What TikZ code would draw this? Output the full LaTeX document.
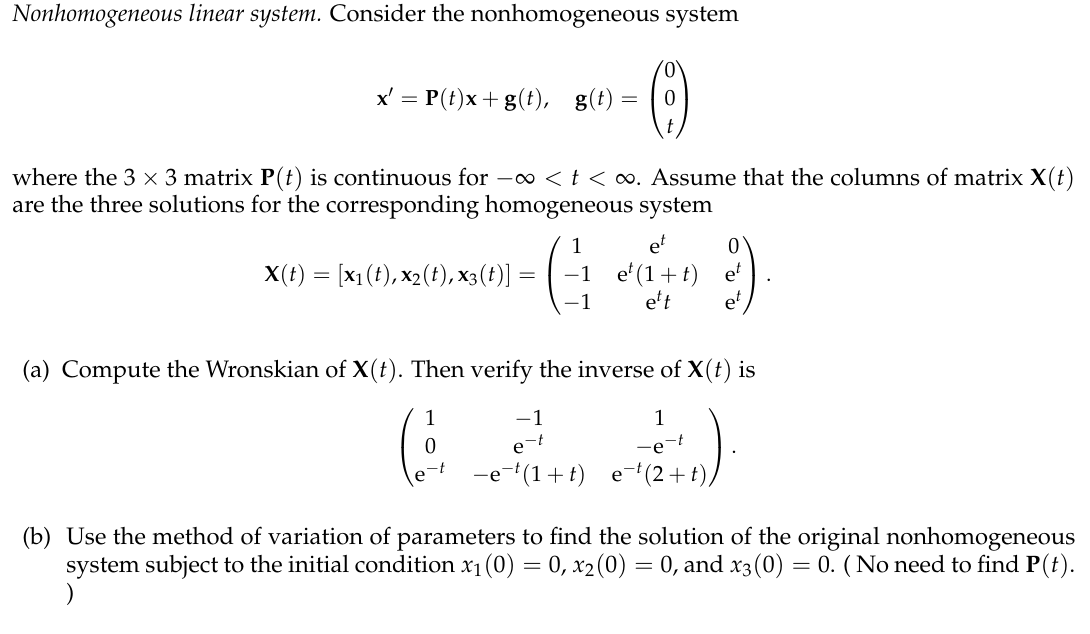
\documentclass[tikz,border=0pt]{standalone}
\usepackage{amsmath}
\usepackage[T1]{fontenc}
\usepackage{mathpazo}
\renewcommand{\rmdefault}{ppl}
\begin{document}
\begin{tikzpicture}[x=0.5pt,y=-0.5pt,
  txt/.style={anchor=north west,inner sep=0pt,align=justify,font=\fontfamily{ppl}\fontsize{11.9}{13.9}\selectfont},
  eq/.style={inner sep=0pt,font=\fontfamily{ppl}\fontsize{11}{14}\selectfont}]
\useasboundingbox (0,0) rectangle (1090,633);
\node[txt,anchor=west] (l1) at (12,16) {\textit{Nonhomogeneous linear system.} Consider the nonhomogeneous system};
\node[eq] (e1) at (536,100) {$\mathbf{x}'=\mathbf{P}(t)\mathbf{x}+\mathbf{g}(t),\quad \mathbf{g}(t)=\begin{pmatrix}0\\0\\t\end{pmatrix}$};
\node[txt,text width=531.5pt] (p2) at (12,166) {where the $3\times3$ matrix $\mathbf{P}(t)$ is continuous for $-\infty<t<\infty$. Assume that the columns of matrix $\mathbf{X}(t)$ are the three solutions for the corresponding homogeneous system};
\node[eq] (e2) at (518,276) {$\mathbf{X}(t)=[\mathbf{x}_1(t),\mathbf{x}_2(t),\mathbf{x}_3(t)]=\begin{pmatrix}1&\mathrm{e}^t&0\\-1&\ \mathrm{e}^t(1+t)\ &\mathrm{e}^t\\-1&\mathrm{e}^t t&\mathrm{e}^t\end{pmatrix}.$};
\node[txt,anchor=west] (a) at (22,372) {(a)\ \ Compute the Wronskian of $\mathbf{X}(t)$. Then verify the inverse of $\mathbf{X}(t)$ is};
\node[eq] (e3) at (566,448) {$\begin{pmatrix}1&-1&1\\0&\mathrm{e}^{-t}&-\mathrm{e}^{-t}\\ \mathrm{e}^{-t}&\ -\mathrm{e}^{-t}(1+t)\ &\mathrm{e}^{-t}(2+t)\end{pmatrix}.$};
\node[txt,anchor=north west] (bl) at (22,527) {(b)};
\node[txt,text width=504.5pt] (b) at (66,527) {Use the method of variation of parameters to find the solution of the original nonhomogeneous system subject to the initial condition $x_1(0)=0$, $x_2(0)=0$, and $x_3(0)=0$. ( No need to find $\mathbf{P}(t)$. )};
\end{tikzpicture}
\end{document}
